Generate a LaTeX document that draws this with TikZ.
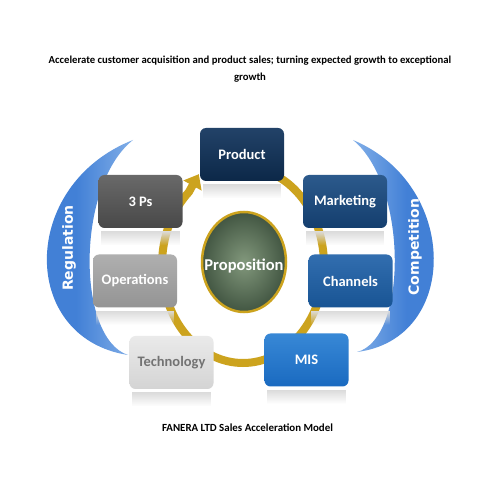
\documentclass[tikz,border=0pt]{standalone}
\usepackage{fontspec}
\setmainfont{Carlito}
\newfontfamily\dvsans{DejaVu Sans}
\usetikzlibrary{arrows.meta,fadings,calc}
\definecolor{ringgold}{RGB}{204,163,30}
\definecolor{cresc}{RGB}{66,128,214}
\definecolor{cresclight}{RGB}{130,175,232}
\definecolor{prodA}{RGB}{34,66,104}\definecolor{prodB}{RGB}{12,40,72}
\definecolor{mktA}{RGB}{44,90,140}\definecolor{mktB}{RGB}{20,62,110}
\definecolor{chA}{RGB}{50,110,175}\definecolor{chB}{RGB}{24,84,148}
\definecolor{misA}{RGB}{56,136,214}\definecolor{misB}{RGB}{26,106,192}
\definecolor{tpA}{RGB}{105,105,105}\definecolor{tpB}{RGB}{72,72,72}
\definecolor{opA}{RGB}{175,175,175}\definecolor{opB}{RGB}{148,148,148}
\definecolor{teA}{RGB}{234,234,234}\definecolor{teB}{RGB}{212,212,212}
\definecolor{tetext}{RGB}{115,115,115}
\definecolor{propIn}{RGB}{130,152,124}\definecolor{propOut}{RGB}{66,86,66}
\tikzset{
  box/.style={rounded corners=6pt, minimum width=84pt, minimum height=53pt, inner sep=0pt,
    font=\fontsize{14.5}{16}\selectfont\bfseries, text=white},
  ring/.style={line width=8pt, draw=ringgold},
  sidelabel/.style={rotate=90, text=white, font=\dvsans\fontsize{14}{16}\selectfont\bfseries},
  refl/.style={fill=black!14, path fading=south},
}
\begin{document}
\begin{tikzpicture}[x=1pt,y=1pt]
\useasboundingbox[fill=white] (0,0) rectangle (480,480);
% crescents
\shade[left color=cresc, right color=cresclight, middle color=cresc]
  (133,340) .. controls (19,295) and (19,142) .. (128,125)
  .. controls (76,142) and (76,295) .. (133,340) -- cycle;
\shade[right color=cresc, left color=cresclight, middle color=cresc]
  (353,340) .. controls (460,295) and (460,141) .. (357,128)
  .. controls (408,141) and (408,295) .. (353,340) -- cycle;
\node[sidelabel] (reg) at (69,232) {Regulation};
\node[sidelabel] (comp) at (415,233) {Competition};
% ring
\coordinate (rc) at (243,215);
\draw[ring, -{Triangle[width=20pt,length=13pt]}]
  ($(rc)+(90:81pt and 98pt)$) arc[start angle=90, end angle=-228, x radius=81, y radius=98]
  -- ++(10,18) coordinate (rtip);
% boxes
\node[box, top color=prodA, bottom color=prodB] (product) at (242,325.5) {Product};
\node[box, top color=mktA, bottom color=mktB] (marketing) at (345,278.5) {Marketing};
\node[box, top color=chA, bottom color=chB] (channels) at (350.5,199) {Channels};
\node[box, top color=misA, bottom color=misB] (mis) at (306.5,120) {MIS};
\node[box, top color=teA, bottom color=teB, text=tetext] (tech) at (171.5,117.5) {Technology};
\node[box, top color=tpA, bottom color=tpB] (threeps) at (140.5,278.5) {3 Ps};
\node[box, top color=opA, bottom color=opB] (ops) at (135,199) {Operations};
\foreach \n in {product,marketing,channels,mis,tech,threeps,ops}{
  \fill[refl] ([xshift=3pt,yshift=-3pt]\n.south west) rectangle ([xshift=-3pt,yshift=-17pt]\n.south east);
}
% proposition
\shade[inner color=propIn, outer color=propOut, draw=ringgold, line width=2.5pt]
  (244,218) ellipse [x radius=42, y radius=50];
\node[text=white, font=\fontsize{16.5}{18}\selectfont\bfseries] (prop) at (244,214) {Proposition};
% texts
\node[align=center, font=\fontsize{10.7}{17}\selectfont\bfseries] (title) at (250,411)
  {Accelerate customer acquisition and product sales; turning expected growth to exceptional\\growth};
\node[font=\fontsize{10.9}{12}\selectfont\bfseries] (caption) at (247.5,52) {FANERA LTD Sales Acceleration Model};
\end{tikzpicture}
\end{document}
